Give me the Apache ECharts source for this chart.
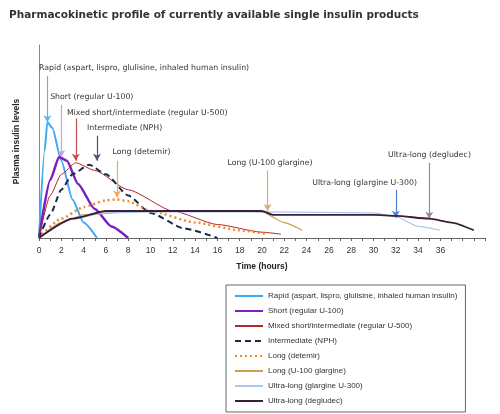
<!DOCTYPE html><html><head><meta charset="utf-8"><script src="https://cdn.jsdelivr.net/npm/echarts@6/dist/echarts.min.js"></script>
<style>body{margin:0}#c{width:500px;height:414px}</style></head><body><div id="c"></div><script>
const names=['Rapid (aspart, lispro, glulisine, inhaled human insulin)','Short (regular U-100)','Mixed short/intermediate (regular U-500)','Intermediate (NPH)','Long (detemir)','Long (U-100 glargine)','Ultra-long (glargine U-300)','Ultra-long (degludec)'];
const rapid=[[0,0],[0.5,45],[0.75,60],[1.2,57],[2,40],[3,20],[4,8],[5.2,0]];
const shortI=[[0,0],[1,30],[1.8,42],[2.5,40],[3.5,28],[5,15],[6.5,6],[8,0]];
const mixed=[[0,0],[1,22],[2,33],[3.3,39],[5,35],[8,25],[12,14],[16,7],[20,3],[21.7,2]];
const nph=[[0,0],[1,12],[2,25],[3,33],[4.5,38],[6,33],[8,22],[10,13],[13,5],[16,0]];
const detemir=[[0,0],[2,10],[4,16],[6,19.5],[7,20],[8,19],[10,14],[14,8],[18,4],[20.5,2]];
const glargine=[[0,0],[2,8],[4,12],[8,13.5],[14,14],[18,14],[20,13.5],[22,8],[23.6,4]];
const u300=[[0,0],[3,10],[6,13],[10,13.5],[20,13.5],[30,13],[32,11],[34,6],[36,4]];
const degludec=[[0,0],[3,10],[6,14],[10,14],[20,14],[21,12],[30,12],[32,11.5],[35,10],[37,8],[39,4]];
const colors=['#3fa9f5','#7b1fc3','#b0282a','#1a2a4a','#f08a24','#c8a050','#a8c8ec','#3a1e3a'];
const arrowColors=['#5ab4f0','#c9a0e8','#c05050','#4a5570','#f0a860','#d0b070','#4a80d0','#9a8a9a'];
const widths=[2,2.5,1,2,2.5,1.2,1.2,1.8];
const types=['solid','solid','solid',[6,4],[2,3],'solid','solid','solid'];
const datas=[rapid,shortI,mixed,nph,detemir,glargine,u300,degludec];
const notes=[[0,88,0.75,84,60],[1,73,2,69,42],[2.5,65,3.3,62,40],[4.3,57,5.2,53,40],[6.6,44.5,7,40,21],[16.9,39,20.5,35,14],[24.5,28.5,32,25,10.5],[31.3,43,35,39,10]];
const series=datas.map((d,i)=>({name:names[i],type:'line',data:d,smooth:0.2,smoothMonotone:'x',symbol:'none',
 lineStyle:{color:colors[i],width:widths[i],type:types[i]},itemStyle:{color:colors[i]},z:i===7?5:3,
 markPoint:{symbol:'circle',symbolSize:0,silent:true,label:{show:true,position:'right',distance:0,color:'#333',fontSize:7.8,fontFamily:'DejaVu Sans',formatter:names[i]},data:[{coord:[notes[i][0],notes[i][1]]}]},
 markLine:{silent:true,symbol:['none','arrow'],symbolSize:[6,7],label:{show:false},lineStyle:{color:arrowColors[i],width:1.2,type:'solid'},data:[[{coord:[notes[i][2],notes[i][3]]},{coord:[notes[i][2],notes[i][4]]}]]}}));
const ch=echarts.init(document.getElementById('c'));
ch.setOption({animation:false,
 title:{text:'Pharmacokinetic profile of currently available single insulin products',left:4,top:5,textStyle:{fontSize:10.5,fontWeight:'bold',color:'#333',fontFamily:'DejaVu Sans'}},
 grid:{left:39,right:15,top:45,bottom:176},
 xAxis:{type:'value',min:0,max:40,interval:1,name:'Time (hours)',nameLocation:'middle',nameGap:24,nameTextStyle:{fontWeight:'bold',fontSize:8.5,color:'#222'},
  axisLine:{lineStyle:{color:'#666'}},axisTick:{length:3,lineStyle:{color:'#666'}},splitLine:{show:false},
  axisLabel:{fontSize:8.5,color:'#333',formatter:v=>(v%2===0&&v<=36)?String(v):''}},
 yAxis:{type:'value',min:0,max:100,name:'Plasma insulin levels',nameLocation:'middle',nameGap:18,nameTextStyle:{fontWeight:'bold',fontSize:8.5,color:'#222'},
  axisLine:{show:true,lineStyle:{color:'#888'}},axisTick:{show:false},axisLabel:{show:false},splitLine:{show:false}},
 legend:{orient:'vertical',left:226,top:285,itemGap:7,itemWidth:28,itemHeight:8,padding:[7,8],borderColor:'#666',borderWidth:1,
  itemStyle:{color:'transparent',borderWidth:0},
  textStyle:{fontSize:8,color:'#333'},data:names},
 series});
</script></body></html>
